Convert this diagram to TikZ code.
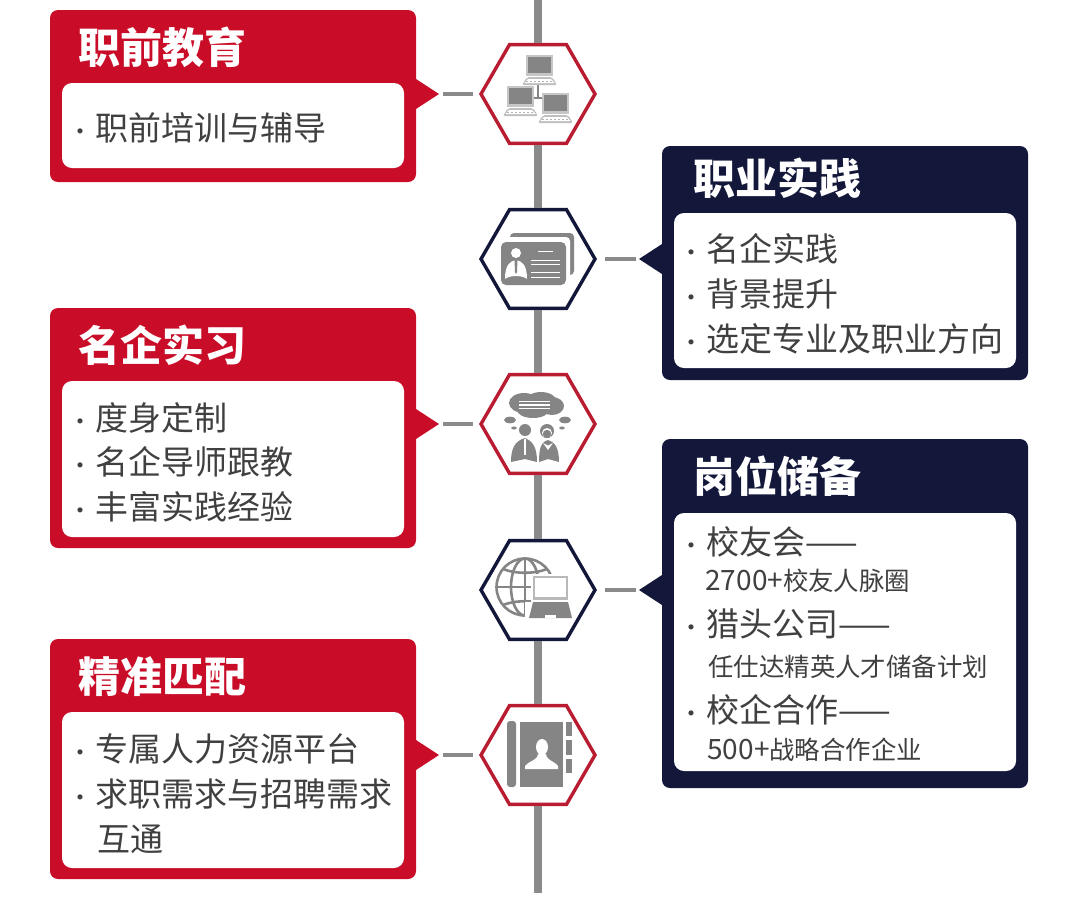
\documentclass[tikz,border=0pt]{standalone}
\usepackage{fontspec}
\setmainfont{Noto Sans CJK SC}
\usetikzlibrary{shapes.geometric,positioning,calc}
\definecolor{cardred}{HTML}{C90D28}
\definecolor{cardnavy}{HTML}{13173A}
\definecolor{hexrim}{HTML}{B91C30}
\definecolor{spine}{HTML}{8A8A8A}
\definecolor{icongray}{HTML}{858585}
\definecolor{bodytext}{HTML}{404040}
\newcommand{\bul}{\makebox[8.5pt][l]{\hspace{-5pt}\fontsize{12pt}{12pt}\selectfont ·}}
\newcommand{\dig}[1]{{\fontsize{14pt}{14pt}\selectfont #1}}
\newcommand{\rul}{\scalebox{0.95}[1]{——}}
% one computer: monitor top left corner at #1,#2
\newcommand{\pcicon}[2]{
    \fill[gray!45] (#1,#2) rectangle ++(27,21);
    \fill[icongray] (#1+2,#2+2) rectangle ++(23,16);
    \fill[gray!50, rounded corners=1pt] (#1-4,#2+30) -- (#1+1,#2+22) -- (#1+26,#2+22) -- (#1+31,#2+30) -- cycle;
    \fill[white] (#1-1.5,#2+28) -- (#1+2,#2+24) -- (#1+25,#2+24) -- (#1+28.5,#2+28) -- cycle;
    \foreach \kk in {0,4,...,24}
        \fill[gray!60] (#1+\kk,#2+25.5) rectangle ++(2,1.5);
}
\begin{document}
\begin{tikzpicture}[x=0.5pt,y=-0.5pt,
            redbox/.style={rectangle, fill=cardred, rounded corners=4pt, minimum width=183pt, inner sep=0pt},
            navybox/.style={rectangle, fill=cardnavy, rounded corners=4pt, minimum width=183pt, inner sep=0pt},
            whitebox/.style={rectangle, fill=white, rounded corners=5pt, minimum width=171pt, inner sep=0pt},
            hexa/.style={regular polygon, regular polygon sides=6, draw, line width=1.7pt, fill=white, minimum size=57pt, inner sep=0pt},
            tip/.style={isosceles triangle, isosceles triangle stretches, minimum width=15pt, minimum height=11.5pt, inner sep=0pt, outer sep=0pt, anchor=apex},
            headtext/.style={anchor=west, font=\fontsize{21pt}{21pt}\selectfont\bfseries, text=white, inner sep=0pt},
            item/.style={anchor=west, font=\fontsize{16.5pt}{16.5pt}\selectfont, text=bodytext, inner sep=0pt},
            note/.style={anchor=west, font=\fontsize{12.7pt}{12.7pt}\selectfont, text=bodytext, inner sep=0pt},
            spineline/.style={draw=spine, line width=4pt},
            stub/.style={draw=spine, line width=1.8pt}]

    \useasboundingbox (0,0) rectangle (1080,900);

    % Ends of the centre line
    \coordinate (top) at (538,0);
    \coordinate (bottom) at (538,893);

    % Hexagons
    \node[hexa, draw=hexrim] (hexA) at (538,94) {};
    \node[hexa, draw=cardnavy] (hexB) at (538,259) {};
    \node[hexa, draw=hexrim] (hexC) at (538,424) {};
    \node[hexa, draw=cardnavy] (hexD) at (538,590) {};
    \node[hexa, draw=hexrim] (hexE) at (538,755) {};

    % Centre line
    \draw[spineline] (top) -- (hexA);
    \draw[spineline] (hexA) -- (hexB);
    \draw[spineline] (hexB) -- (hexC);
    \draw[spineline] (hexC) -- (hexD);
    \draw[spineline] (hexD) -- (hexE);
    \draw[spineline] (hexE) -- (bottom);

    % Cards
    \node[redbox, minimum height=86pt] (pre) at (233,96) {};
    \node[whitebox, minimum height=42.5pt] (preIn) at (233,125.5) {};
    \node[navybox, minimum height=117pt] (prac) at (845,263) {};
    \node[whitebox, minimum height=77.5pt] (pracIn) at (845,290.5) {};
    \node[redbox, minimum height=120pt] (intern) at (233,428) {};
    \node[whitebox, minimum height=78pt] (internIn) at (233,459) {};
    \node[navybox, minimum height=174.5pt] (reserve) at (845,613.5) {};
    \node[whitebox, minimum height=129pt] (reserveIn) at (845,642) {};
    \node[redbox, minimum height=120pt] (match) at (233,759) {};
    \node[whitebox, minimum height=78pt] (matchIn) at (233,790) {};

    % Pointers on the cards
    \node[tip, fill=cardred] (tipA) at (439,94) {};
    \node[tip, fill=cardnavy, shape border rotate=180] (tipB) at (639,259) {};
    \node[tip, fill=cardred] (tipC) at (439,424) {};
    \node[tip, fill=cardnavy, shape border rotate=180] (tipD) at (639,590) {};
    \node[tip, fill=cardred] (tipE) at (439,755) {};

    % Stubs
    \draw[stub, shorten <=2pt, shorten >=3.2pt] (tipA.apex) -- (hexA);
    \draw[stub, shorten <=2pt, shorten >=3.2pt] (tipC.apex) -- (hexC);
    \draw[stub, shorten <=2pt, shorten >=3.2pt] (tipE.apex) -- (hexE);
    \draw[stub, shorten <=1.5pt, shorten >=4pt] (tipB.apex) -- (hexB);
    \draw[stub, shorten <=1.5pt, shorten >=4pt] (tipD.apex) -- (hexD);

    % Titles
    \node[headtext] (preT) at (78,47) {职前教育};
    \node[headtext] (pracT) at (693.5,178) {职业实践};
    \node[headtext] (internT) at (78,345) {名企实习};
    \node[headtext] (reserveT) at (693.5,476) {岗位储备};
    \node[headtext] (matchT) at (78,677) {精准匹配};

    % Text on the left
    \node[item] (a1) at (78,128) {\bul 职前培训与辅导};
    \node[item] (c1) at (78,418) {\bul 度身定制};
    \node[item] (c2) at (78,462) {\bul 名企导师跟教};
    \node[item] (c3) at (78,507) {\bul 丰富实践经验};
    \node[item] (e1) at (78,749) {\bul 专属人力资源平台};
    \node[item] (e2) at (78,794) {\bul 求职需求与招聘需求};
    \node[item] (e3) at (97,839) {互通};

    % Text on the right
    \node[item] (b1) at (689,249) {\bul 名企实践};
    \node[item] (b2) at (689,294) {\bul 背景提升};
    \node[item] (b3) at (689,339) {\bul 选定专业及职业方向};
    \node[item] (d1) at (689,542) {\bul 校友会\rul};
    \node[note] (d2) at (705,581) {\dig{2700+}校友人脉圈};
    \node[item] (d3) at (689,624) {\bul 猎头公司\rul};
    \node[note] (d4) at (708,667) {任仕达精英人才储备计划};
    \node[item] (d5) at (689,710) {\bul 校企合作\rul};
    \node[note] (d6) at (707,750) {\dig{500+}战略合作企业};

    % Icon: three computers
    \draw[icongray, line width=1pt] (538,83) -- (538,98) (533,98) -- (542,98);
    \pcicon{526}{55}
    \pcicon{507}{86}
    \pcicon{542}{93}

    % Icon: business cards
    \fill[icongray, rounded corners=2pt] (510,233) rectangle (574,275);
    \fill[white, rounded corners=2pt] (505,237) rectangle (570,290);
    \fill[icongray, rounded corners=2.5pt] (501,242) rectangle (566,285);
    \fill[white] (516,253) circle (5);
    \fill[white] (505,279) .. controls (505,265) and (510,261) .. (516,260) .. controls (522,261) and (527,265) .. (527,279) .. controls (522,275) and (510,275) .. cycle;
    \fill[icongray] (514.5,260) -- (517.5,260) -- (517,272) -- (516,274) -- (515,272) -- cycle;
    \fill[white] (538,250.5) rectangle (553,252);
    \foreach \yy in {259.5,263.5,271.5,276.5}
        \fill[white] (531,\yy) rectangle (560,\yy+1.4);

    % Icon: two people talking
    \fill[icongray] (524,403) ellipse (15 and 10);
    \fill[icongray] (541,402) ellipse (16 and 10);
    \fill[icongray] (552,406) ellipse (12 and 9);
    \fill[icongray] (533,410) ellipse (16 and 8);
    \foreach \yy in {401.5,405,408.5}
        \fill[white] (519,\yy-0.6) rectangle (550,\yy+0.6);
    \fill[icongray] (510,420) ellipse (6 and 3.3);
    \fill[icongray] (565,420) ellipse (6 and 3.3);
    \fill[icongray] (514,428) ellipse (2.8 and 1.5);
    \fill[icongray] (562,428) ellipse (2.8 and 1.5);
    \fill[icongray] (525,430) circle (6);
    \fill[icongray] (547,431) circle (7);
    \fill[white] (547,433) circle (5);
    \fill[icongray] (547,434) circle (4.2);
    \fill[icongray] (511,462) .. controls (511,448) and (515,441) .. (525,438) .. controls (532,441) and (537,446) .. (537,462) -- (525,459) -- cycle;
    \fill[white] (524,439) rectangle (526,455);
    \fill[icongray] (539,462) .. controls (539,448) and (541,442) .. (548,440) .. controls (555,442) and (559,448) .. (559,462) -- (548,459) -- cycle;
    \fill[white] (543,443) -- (548,450) -- (553,443) -- (548,445.5) -- cycle;

    % Icon: globe and laptop
    \begin{scope}[icongray, line width=1.3pt]
        \draw (525,587) circle (28.5);
        \draw (525,587) ellipse (14 and 28.5);
        \draw (525,558) -- (525,616);
        \draw (497,587) -- (553,587);
        \draw (503,569) .. controls (515,574) and (535,574) .. (547,569);
        \draw (503,605) .. controls (515,600) and (535,600) .. (547,605);
    \end{scope}
    \fill[white] (531,574) rectangle (574,620);
    \fill[white] (525,602) rectangle (531,620);
    \fill[gray!55] (533,576) rectangle (568,600);
    \fill[white] (535,578) rectangle (566,597);
    \fill[icongray] (533,602) -- (568,602) -- (572,618) -- (529,618) -- cycle;
    \fill[white] (545,614.5) rectangle (556,618);

    % Icon: address book
    \fill[icongray, rounded corners=1.5pt] (507,721) rectangle (516,787);
    \fill[icongray] (520,722) rectangle (563,787);
    \fill[icongray] (566,722) rectangle (572,736);
    \fill[icongray] (566,740) rectangle (572,755);
    \fill[icongray] (566,759) rectangle (572,773);
    \fill[white] (542,747) ellipse (6 and 8);
    \fill[white] (525,769) -- (525,766) .. controls (530,760) and (537,761) .. (538,754) -- (546,754) .. controls (547,761) and (553,760) .. (558,766) -- (558,769) -- cycle;
\end{tikzpicture}
\end{document}
